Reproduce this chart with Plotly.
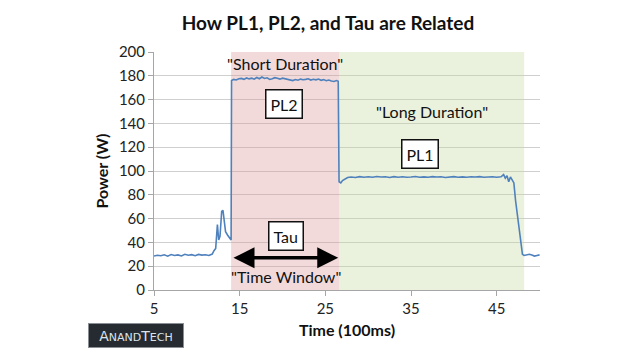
import plotly.graph_objects as go

# ---- data ----
time_idle = [5.0, 5.4, 5.8, 6.2, 6.6, 7.0, 7.4, 7.8, 8.2, 8.6, 9.0, 9.4, 9.8, 10.2, 10.6, 11.0, 11.4, 11.8]
power_idle = [28.5, 29.2, 28.8, 29.6, 28.4, 29.8, 29.0, 29.5, 28.6, 30.0, 29.2, 29.7, 28.8, 29.9, 29.3, 29.6, 29.0, 30.2]

time_spike = [12.0, 12.2, 12.4, 12.55, 12.7, 12.9, 13.05, 13.2, 13.35, 13.6, 13.85, 14.0]
power_spike = [33, 35, 55, 42, 45, 66, 67, 55, 49, 46, 43, 42]

time_pl2 = [14.05, 14.3, 14.6, 14.9, 15.2, 15.5, 15.8, 16.1, 16.4, 16.7, 17.0, 17.3, 17.6, 17.9, 18.2,
            18.5, 18.8, 19.1, 19.4, 19.7, 20.0, 20.3, 20.6, 20.9, 21.2, 21.5, 21.8, 22.1, 22.4, 22.7,
            23.0, 23.3, 23.6, 23.9, 24.2, 24.5, 24.8, 25.1, 25.4, 25.7, 26.0, 26.3, 26.5]
power_pl2 = [176.0, 177.0, 176.5, 177.5, 177.8, 177.0, 178.2, 177.4, 178.0, 177.2, 178.6, 177.5, 179.0, 177.8, 178.3,
             176.9, 177.6, 178.4, 177.9, 177.2, 178.0, 177.6, 176.8, 176.4, 176.0, 176.9, 176.3, 177.2, 176.7, 177.0,
             177.5, 176.4, 177.1, 176.6, 177.3, 176.2, 176.8, 175.9, 176.5, 175.6, 175.2, 176.0, 175.4]

time_pl1 = [26.6, 26.8, 27.0, 27.3, 27.6, 28.0, 28.5, 29.0, 29.5, 30.0, 30.5, 31.0, 31.5, 32.0, 32.5,
            33.0, 33.5, 34.0, 34.5, 35.0, 35.5, 36.0, 36.5, 37.0, 37.5, 38.0, 38.5, 39.0, 39.5, 40.0,
            40.5, 41.0, 41.5, 42.0, 42.5, 43.0, 43.5, 44.0, 44.5, 45.0, 45.5]
power_pl1 = [91.0, 90.0, 92.0, 93.5, 94.5, 95.0, 94.6, 95.3, 94.8, 95.2, 94.7, 95.4, 94.9, 95.1, 94.6,
             95.3, 94.8, 95.2, 94.7, 95.0, 95.4, 94.8, 95.1, 94.7, 95.3, 94.9, 95.2, 94.6, 95.0, 95.3,
             94.8, 95.1, 94.7, 95.2, 94.9, 95.3, 94.7, 95.0, 95.2, 94.8, 95.1]

time_drop = [45.8, 46.0, 46.2, 46.4, 46.6, 46.8, 47.0, 47.2, 47.4, 47.6, 47.8, 48.0, 48.2, 48.5, 48.8, 49.1, 49.4, 49.7, 50.0]
power_drop = [97.0, 94.0, 96.0, 91.0, 95.0, 92.0, 90.0, 75.0, 64.0, 53.0, 38.0, 30.0, 29.0, 29.6, 30.0, 29.5, 28.5, 29.0, 29.5]

time = time_idle + time_spike + time_pl2 + time_pl1 + time_drop
power = power_idle + power_spike + power_pl2 + power_pl1 + power_drop

short_window = [14.0, 26.6]   # PL2 / Tau region
long_window = [26.6, 48.2]    # PL1 region
x_ticks = [5, 15, 25, 35, 45]
y_ticks = [0, 20, 40, 60, 80, 100, 120, 140, 160, 180, 200]

FONT = "Lato"

fig = go.Figure()
fig.add_trace(go.Scatter(x=time, y=power, mode="lines",
                         line=dict(color="rgb(79,129,189)", width=1.6),
                         hoverinfo="skip", showlegend=False))

fig.add_shape(type="rect", xref="x", yref="y", x0=short_window[0], x1=short_window[1], y0=0, y1=200,
              fillcolor="rgba(217,150,148,0.35)", line_width=0, layer="between")
fig.add_shape(type="rect", xref="x", yref="y", x0=long_window[0], x1=long_window[1], y0=0, y1=200,
              fillcolor="rgba(196,215,155,0.35)", line_width=0, layer="between")

# text labels
fig.add_annotation(x=20.3, y=190, text='"Short Duration"', showarrow=False,
                   font=dict(family=FONT, size=16, color="#111"))
fig.add_annotation(x=37.4, y=150, text='"Long Duration"', showarrow=False,
                   font=dict(family=FONT, size=16, color="#111"))
fig.add_annotation(x=20.4, y=11, text='"Time Window"', showarrow=False,
                   font=dict(family=FONT, size=16, color="#111"))
for lx, ly, lt in [(20.2, 156, "PL2"), (36.1, 114, "PL1"), (20.4, 45, "Tau")]:
    fig.add_annotation(x=lx, y=ly, text=lt, showarrow=False,
                       font=dict(family=FONT, size=16, color="#111"),
                       bordercolor="#111", borderwidth=1.5, borderpad=4, bgcolor="white")

# double arrow for Tau
fig.add_annotation(x=26.5, y=27, ax=14.1, ay=27, xref="x", yref="y", axref="x", ayref="y",
                   text="", showarrow=True, arrowhead=2, arrowside="end+start",
                   arrowsize=1.2, arrowwidth=3.5, arrowcolor="black")

# logo
fig.add_annotation(xref="paper", yref="paper", x=-0.0465, y=-0.19, showarrow=False,
                   text="A<span style='font-size:11px'>NAND</span>T<span style='font-size:11px'>ECH</span>",
                   font=dict(family="DejaVu Sans", size=14, color="#dde3ea"),
                   width=92, height=21, bgcolor="#262b31", bordercolor="#8a8f96", borderwidth=1,
                   xanchor="center", yanchor="middle")

fig.update_layout(
    width=640, height=360,
    margin=dict(l=146, r=108, t=44, b=78),
    paper_bgcolor="white", plot_bgcolor="white",
    title=dict(text="<b>How PL1, PL2, and Tau are Related</b>", x=0.5, xanchor="center",
               y=0.956, yanchor="middle", font=dict(family=FONT, size=19, color="#111")),
    xaxis=dict(range=[5, 50.05], tickvals=x_ticks, showgrid=False, showline=True,
               linecolor="#a6a6a6", linewidth=1, ticks="outside", ticklen=5, tickcolor="#a6a6a6",
               tickfont=dict(family=FONT, size=15, color="#222"), zeroline=False,
               title=dict(text="<b>Time (100ms)</b>", font=dict(family=FONT, size=16, color="#111"),
                          standoff=8)),
    yaxis=dict(range=[0, 200], tickvals=y_ticks, showgrid=True, gridcolor="#cfcfcf", gridwidth=1,
               showline=True, linecolor="#a6a6a6", ticks="outside", ticklen=5, tickcolor="#a6a6a6",
               tickfont=dict(family=FONT, size=15, color="#222"), zeroline=False,
               title=dict(text="<b>Power (W)</b>", font=dict(family=FONT, size=16, color="#111"),
                          standoff=6)),
)

fig.write_html("out.html")
